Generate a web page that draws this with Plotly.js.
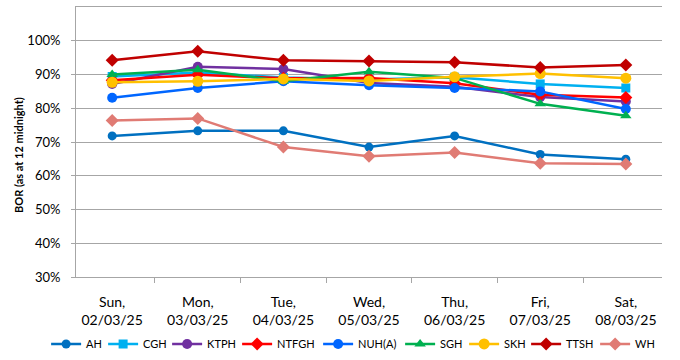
<!DOCTYPE html>
<html>
<head>
<meta charset="utf-8">
<script src="https://cdn.plot.ly/plotly-3.0.1.min.js"></script>
<style>html,body{margin:0;padding:0;background:#fff;}#chart{width:680px;height:360px;}</style>
</head>
<body>
<div id="chart"></div>
<script>
const categories = ["Sun,<br>02/03/25","Mon,<br>03/03/25","Tue,<br>04/03/25","Wed,<br>05/03/25","Thu,<br>06/03/25","Fri,<br>07/03/25","Sat,<br>08/03/25"];
const seriesNames = ["AH","CGH","KTPH","NTFGH","NUH(A)","SGH","SKH","TTSH","WH"];
const AH    = [71.8, 73.3, 73.3, 68.5, 71.8, 66.3, 64.9];
const CGH   = [89.4, 90.6, 89.1, 88.5, 89.2, 87.2, 86.0];
const KTPH  = [87.2, 92.3, 91.6, 87.5, 86.4, 83.3, 82.0];
const NTFGH = [88.3, 89.9, 88.9, 89.0, 87.4, 84.0, 83.2];
const NUHA  = [83.1, 86.0, 88.0, 86.8, 86.0, 85.0, 79.8];
const SGH   = [90.0, 91.4, 88.0, 90.8, 89.0, 81.3, 77.8];
const SKH   = [87.7, 88.0, 88.7, 88.1, 89.3, 90.3, 88.9];
const TTSH  = [94.2, 96.9, 94.2, 94.0, 93.6, 92.1, 92.8];
const WH    = [76.4, 77.0, 68.5, 65.8, 66.9, 63.7, 63.5];
const yTickVals = [30, 40, 50, 60, 70, 80, 90, 100];
const yTickText = ["30%", "40%", "50%", "60%", "70%", "80%", "90%", "100%"];

const values = [AH, CGH, KTPH, NTFGH, NUHA, SGH, SKH, TTSH, WH];
const styles = [
  {color:"#0070C0", symbol:"circle", size:9, lw:12},
  {color:"#00B0F0", symbol:"square", size:9, lw:19},
  {color:"#7030A0", symbol:"circle", size:10, lw:25},
  {color:"#FF0000", symbol:"diamond", size:10, lw:36},
  {color:"#0066FF", symbol:"circle", size:10, lw:37},
  {color:"#00B050", symbol:"triangle-up", size:10, lw:19},
  {color:"#FFC000", symbol:"circle", size:11, lw:17},
  {color:"#C00000", symbol:"diamond", size:10, lw:24},
  {color:"#E07B74", symbol:"diamond", size:10, lw:22}
];

const traces = seriesNames.map((n, i) => ({
  type: "scatter",
  mode: "lines+markers",
  name: n,
  x: categories,
  y: values[i],
  legendwidth: styles[i].lw,
  line: {color: styles[i].color, width: 2.5},
  marker: {color: styles[i].color, symbol: styles[i].symbol, size: styles[i].size}
}));

const layout = {
  width: 680, height: 360,
  margin: {l: 76, r: 18, t: 7, b: 83, autoexpand: false},
  paper_bgcolor: "#fff", plot_bgcolor: "#fff",
  font: {family: "Lato, 'Liberation Sans', sans-serif", color: "#000"},
  showlegend: true,
  legend: {
    orientation: "h", x: -0.051, xanchor: "left", y: -0.248, yanchor: "middle",
    bgcolor: "rgba(0,0,0,0)",
    font: {size: 11, family: "Lato, sans-serif", color: "#000"},
    itemwidth: 30
  },
  xaxis: {
    type: "category",
    showline: true, linecolor: "#a6a6a6", linewidth: 1, mirror: true,
    showgrid: false, zeroline: false,
    ticks: "outside", tickson: "boundaries", ticklen: 5, tickcolor: "#a6a6a6",
    ticklabelstandoff: 12,
    tickfont: {size: 14, family: "Lato, sans-serif", color: "#000"},
    automargin: false
  },
  yaxis: {
    range: [30, 110],
    tickvals: yTickVals, ticktext: yTickText,
    showline: true, linecolor: "#a6a6a6", linewidth: 1,
    showgrid: true, gridcolor: "#a6a6a6", gridwidth: 1,
    zeroline: false,
    ticks: "outside", ticklen: 4, tickcolor: "#a6a6a6",
    ticklabelstandoff: 8,
    tickfont: {size: 13, family: "Lato, sans-serif", color: "#000"},
    automargin: false
  },
  annotations: [{
    text: "<b>BOR (as at 12 midnight)</b>",
    xref: "paper", yref: "paper",
    x: (18 - 76) / 586, y: (277 - 155) / 270,
    xanchor: "center", yanchor: "middle",
    textangle: -90, showarrow: false,
    font: {size: 11, family: "Lato, sans-serif", color: "#000"}
  }]
};

Plotly.newPlot("chart", traces, layout, {displayModeBar: false, staticPlot: true});
</script>
</body>
</html>
